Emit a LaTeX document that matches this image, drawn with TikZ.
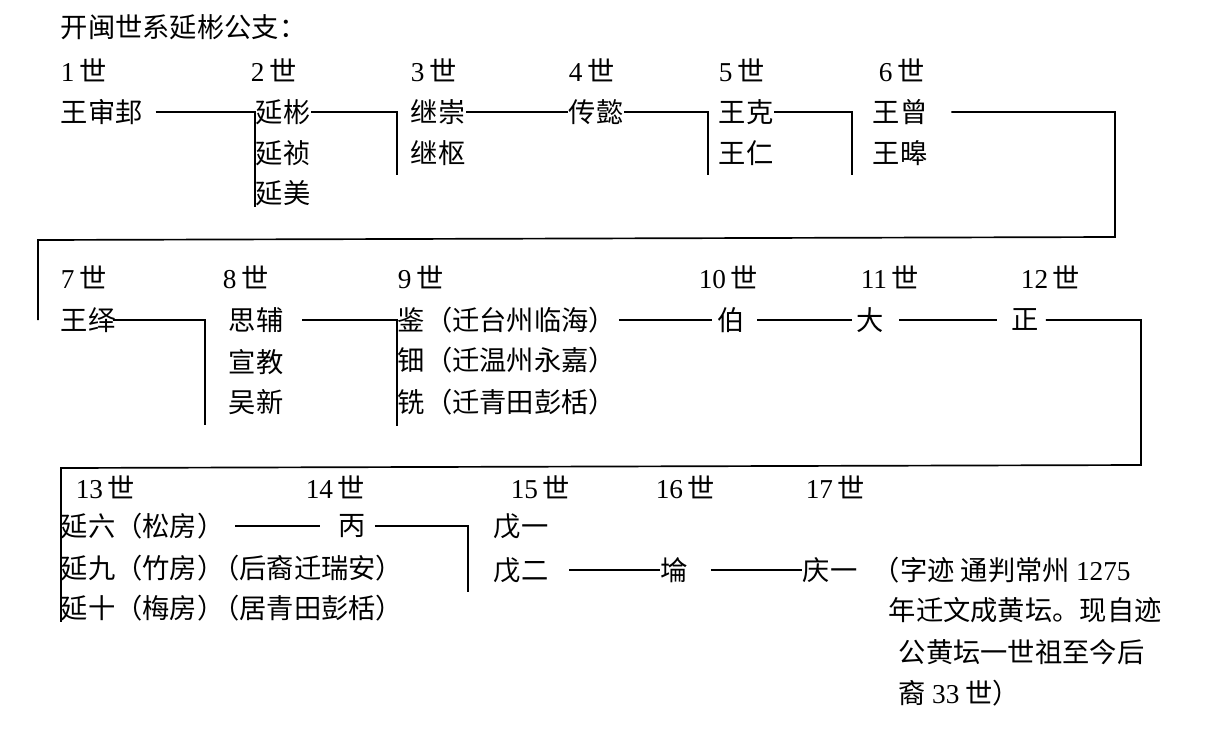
\documentclass[tikz,border=0pt]{standalone}
\usepackage{fontspec}
\newfontfamily\cjk{Noto Sans CJK SC}
\newfontfamily\numfont{Liberation Serif}
\newcommand{\gnum}[1]{{\numfont #1}\,世}

\begin{document}
\begin{tikzpicture}[x=0.025cm,y=-0.025cm,line width=1.2pt,
  txt/.style={anchor=west,inner sep=0pt,font=\cjk\fontsize{19.4}{23}\selectfont}]
  \useasboundingbox[fill=white] (0,0) rectangle (1208,744);
  \node[txt] (title) at (60,27) {开闽世系延彬公支：};
  \node[txt] (g1) at (60,70) {\gnum{1}};
  \node[txt] (g2) at (250,70) {\gnum{2}};
  \node[txt] (g3) at (410,70) {\gnum{3}};
  \node[txt] (g4) at (568,70) {\gnum{4}};
  \node[txt] (g5) at (718,70) {\gnum{5}};
  \node[txt] (g6) at (878,70) {\gnum{6}};
  \node[txt] (n1) at (60,112) {王审邽};
  \node[txt] (n2a) at (255,112) {延彬};
  \node[txt] (n2b) at (255,153) {延祯};
  \node[txt] (n2c) at (255,193) {延美};
  \node[txt] (n3a) at (410,112) {继崇};
  \node[txt] (n3b) at (410,153) {继枢};
  \node[txt] (n4) at (568,112) {传懿};
  \node[txt] (n5a) at (718,112) {王克};
  \node[txt] (n5b) at (718,153) {王仁};
  \node[txt] (n6a) at (872,112) {王曾};
  \node[txt] (n6b) at (872,153) {王暤};
  \draw ([xshift=0.3cm]n1.east) -- (n2a.west) -- (n2a.west |- n2c.south);
  \draw (n2a.east) -| ([xshift=-0.33cm,yshift=-0.22cm]n3b.south west);
  \draw (n3a.east) -- (n4.west);
  \draw (n4.east) -| ([xshift=-0.25cm,yshift=-0.22cm]n5b.south west);
  \draw (n5a.east) -| ([xshift=-0.5cm,yshift=-0.22cm]n6b.south west);
  \coordinate (w1) at (1115,237);
  \coordinate (w2) at (38,240);
  \node[txt] (g7) at (60,277) {\gnum{7}};
  \node[txt] (g8) at (222,277) {\gnum{8}};
  \node[txt] (g9) at (397,277) {\gnum{9}};
  \node[txt] (g10) at (698,277) {\gnum{10}};
  \node[txt] (g11) at (860,277) {\gnum{11}};
  \node[txt] (g12) at (1020,277) {\gnum{12}};
  \node[txt] (n7) at (60,320) {王绎};
  \node[txt] (n8a) at (228,320) {思辅};
  \node[txt] (n8b) at (228,362) {宣教};
  \node[txt] (n8c) at (228,402) {吴新};
  \node[txt] (n9a) at (397,320) {鉴（迁台州临海）};
  \node[txt] (n9b) at (397,360) {钿（迁温州永嘉）};
  \node[txt] (n9c) at (397,402) {铣（迁青田彭栝）};
  \node[txt] (n10) at (717,320) {伯};
  \node[txt] (n11) at (856,320) {大};
  \node[txt] (n12) at (1011,320) {正};
  \draw ([xshift=0.58cm]n6a.east) -| (w1) -- (w2) -- (w2 |- n7.west);
  \draw ([xshift=-0.08cm]n7.east) -| ([xshift=-0.58cm,yshift=-0.25cm]n8c.south west);
  \draw ([xshift=0.45cm]n8a.east) -| ([yshift=-0.25cm]n9c.south west);
  \draw ([xshift=0.05cm]n9a.east) -- ([xshift=-0.12cm]n10.west);
  \draw ([xshift=0.28cm]n10.east) -- ([xshift=-0.1cm]n11.west);
  \draw ([xshift=0.36cm]n11.east) -- ([xshift=-0.35cm]n12.west);
  \coordinate (w3) at (1141,465);
  \coordinate (w4) at (61,468);
  \node[txt] (g13) at (75,487) {\gnum{13}};
  \node[txt] (g14) at (305,487) {\gnum{14}};
  \node[txt] (g15) at (510,487) {\gnum{15}};
  \node[txt] (g16) at (655,487) {\gnum{16}};
  \node[txt] (g17) at (805,487) {\gnum{17}};
  \node[txt] (n13a) at (60,526) {延六（松房）};
  \node[txt] (n13b) at (60,568) {延九（竹房）\kern-0.45em（后裔迁瑞安）};
  \node[txt] (n13c) at (60,608) {延十（梅房）\kern-0.45em（居青田彭栝）};
  \node[txt] (n14) at (338,526) {丙};
  \node[txt] (n15a) at (493,526) {戊一};
  \node[txt] (n15b) at (493,570) {戊二};
  \node[txt] (n16) at (660,570) {埨};
  \node[txt] (n17) at (802,570) {庆一};
  \node[txt] (note1) at (872,570) {（字迹 通判常州 {\numfont 1275}};
  \node[txt] (note2) at (888,610) {年迁文成黄坛。现自迹};
  \node[txt] (note3) at (898,652) {公黄坛一世祖至今后};
  \node[txt] (note4) at (898,693) {裔 {\numfont 33} 世）};
  \draw ([xshift=0.15cm]n12.east) -| (w3) -- (w4) -- (w4 |- n13c.south);
  \draw ([xshift=0.25cm]n13a.east) -- ([xshift=-0.45cm]n14.west);
  \draw ([xshift=0.2cm]n14.east) -| ([xshift=-0.63cm,yshift=-0.22cm]n15b.south west);
  \draw ([xshift=0.5cm]n15b.east) -- (n16.west);
  \draw ([xshift=0.55cm]n16.east) -- (n17.west);
\end{tikzpicture}
\end{document}
